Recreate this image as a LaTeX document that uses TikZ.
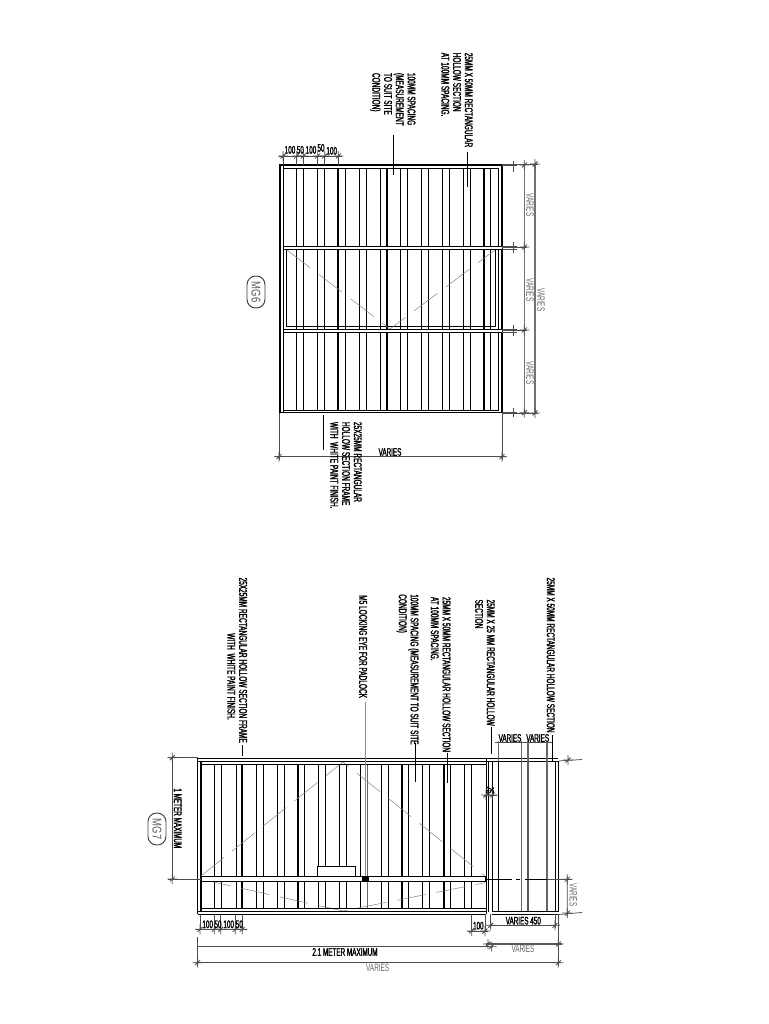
\documentclass[tikz,border=0pt]{standalone}
\usepackage{fontspec}
\newfontfamily\drawfont[FakeStretch=0.58,FakeBold=1.6]{Liberation Sans}
\newfontfamily\grayfont[FakeStretch=0.6]{Liberation Sans}
\newfontfamily\bubblefont[FakeStretch=0.75]{Liberation Sans}
\tikzset{
  frame/.style={line width=1pt,black},
  bar/.style={line width=.75pt,black},
  thickbar/.style={line width=1.3pt,black},
  dim/.style={line width=.55pt,black!70},
  graydim/.style={line width=.8pt,black!55},
  leader/.style={line width=.75pt,black},
  diag/.style={line width=.35pt,black!50,dash pattern=on 22pt off 8pt},
  note/.style={rotate=-90,anchor=north west,align=left,inner sep=0pt,font=\drawfont\fontsize{8.4}{8.8}\selectfont},
  dimtext/.style={inner sep=0pt,font=\drawfont\fontsize{8.2}{8.8}\selectfont},
  graytext/.style={inner sep=0pt,text=black!60,font=\grayfont\fontsize{8}{8.8}\selectfont},
  bubble/.style={draw=black!75,line width=.7pt,rounded corners=6.5pt,minimum width=24pt,minimum height=13.5pt,inner sep=0pt,rotate=-90,text=black!65,font=\bubblefont\fontsize{9.5}{10}\selectfont}
}
\newcommand{\tk}[2]{\draw[dim] (#1-5,#2) -- (#1+5,#2) (#1,#2-5) -- (#1,#2+5) (#1-2.5,#2+2.5) -- (#1+2.5,#2-2.5);}
\begin{document}
\begin{tikzpicture}[x=.75pt,y=-.75pt]
\useasboundingbox (0,0) rectangle (768,1024);
\fill[white] (0,0) rectangle (768,1024);

%% ===== TOP GATE =====
\foreach \x in {296.7,303.3,317.7,324.7,345.3,359.3,366.3,380.3,400.7,407.7,421.7,428.7,442.3,449.3,463.3,470.3,490.7}
  \draw[bar] (\x,168) -- (\x,410);
\foreach \x in {338.3,387,483.7}
  \draw[thickbar] (\x,168) -- (\x,410);
\draw[bar] (286.7,249.3) -- (286.7,326) -- (495,326) -- (495,249.3);
\draw[diag] (287,250) -- (390,329) -- (495,250);
\draw[frame] (280,165) rectangle (502,412.7);
\draw[bar] (283.5,165) -- (283.5,412) (498.7,168) -- (498.7,410.5);
\draw[bar] (283.5,168.5) -- (498.7,168.5) (283.5,410.3) -- (498.7,410.3);
\filldraw[fill=white,draw=black,line width=.7pt] (283.5,246) rectangle (502,249.3);
\filldraw[fill=white,draw=black,line width=.7pt] (283.5,329.3) rectangle (502,332.3);
% top dims
\draw[dim] (279,156) -- (342,156);
\foreach \x in {283,296.7,303.3,317.7,324.7,338.3} {\tk{\x}{156}\draw[dim] (\x,156)--(\x,165);}
\node[dimtext] (t1) at (290,154) [anchor=south] {100};
\node[dimtext] (t2) at (300.3,154) [anchor=south] {50};
\node[dimtext] (t3) at (311,154) [anchor=south] {100};
\node[dimtext] (t4) at (321,152) [anchor=south] {50};
\node[dimtext] (t5) at (331.7,155) [anchor=south] {100};
% right dims
\foreach \y in {165,246,249.3,329.3,332.3,412.7} \draw[dim] (502,\y) -- (517,\y);
\draw[dim] (513,161) -- (513,172) (513,242) -- (513,253) (513,325) -- (513,336) (513,408) -- (513,417);
\draw[graydim] (524.3,165) -- (524.3,412.7);
\draw[graydim] (535,164) -- (535,413);
\foreach \y in {165,247,330,412.7} {\tk{524.3}{\y}}
\tk{535}{164}\tk{535}{413}
\draw[dim] (502,164) -- (538,164) (502,413) -- (538,413) (502,247) -- (527,247) (502,330) -- (527,330);
\node[graytext,rotate=-90] (v1) at (530,205) {VARIES};
\node[graytext,rotate=-90] (v2) at (530,290) {VARIES};
\node[graytext,rotate=-90] (v3) at (530,373) {VARIES};
\node[graytext,rotate=-90] (v4) at (541,300) {VARIES};
% bottom dim
\draw[dim] (279,412.7) -- (279,460) (502,412.7) -- (502,460) (275,456.7) -- (506,456.7);
\tk{279}{456.7}\tk{502}{456.7}
\node[dimtext] (v5) at (390,452) {VARIES};
% notes
\node[note] (n1) at (473,52.5) {25MM X 50MM RECTANGULAR\\HOLLOW SECTION\\AT 100MM SPACING.};
\draw[leader] (467.7,151.7) -- (467.7,186.7);
\node[note] (n2) at (415.7,72.7) {100MM SPACING\\(MEASUREMENT\\TO SUIT SITE\\CONDITION)};
\draw[leader] (393.3,135) -- (393.3,175);
\node[note] (n3) at (362,421.7) {25X25MM RECTANGULAR\\HOLLOW SECTION FRAME\\WITH\ \ WHITE PAINT FINISH.};
\draw[leader] (323.3,415) -- (323.3,450);
\node[bubble] (b1) at (256,292) {MG6};

%% ===== BOTTOM GATE =====
\foreach \x in {214.3,221.7,236,256,263.3,277.3,284.3,304.7,318.3,325.7,339.7,346.7,360.3,381.7,388.7,408.7,422.7,429.7,450,464.3,471.3}
  \draw[bar] (\x,764) -- (\x,908);
\foreach \x in {242.3,297.7,402,443.7}
  \draw[thickbar] (\x,764) -- (\x,908);
\draw[line width=.7pt,black!60] (367.3,764) -- (367.3,908);
\draw[thickbar] (201,761) -- (201,912);
\draw[diag] (201,876) -- (343,762) -- (485,876);
\draw[diag] (201.7,879.3) -- (343,911) -- (485,882.7);
\draw[bar] (197.7,758.3) -- (197.7,914.3);
\draw[bar] (197.7,758.3) -- (558.3,758.3);
\draw[bar] (197.7,761.2) -- (558.3,761.2);
\draw[bar] (201,764.3) -- (486,764.3);
\draw[bar] (201,908.3) -- (486,908.3);
\draw[bar] (197.7,911.7) -- (486,911.7);
\draw[bar] (197.7,914.3) -- (486,914.3);
\draw[bar] (486,758.3) -- (486,914.3);
\filldraw[fill=white,draw=black,line width=.7pt] (201,876) rectangle (485,881.7);
\filldraw[fill=white,draw=black,line width=.6pt] (317.7,866.7) rectangle (355.7,876);
\fill[black] (361.5,876.5) rectangle (368.5,881);
% right panel
\foreach \x in {488.3,492.3,498.3,555,558.3} \draw[bar] (\x,761) -- (\x,911.7);
\foreach \x in {521.7,547} \draw[line width=1.1pt,black!60] (\x,761) -- (\x,911.7);
\draw[line width=1pt,black!65] (528,761) -- (528,911.7);
\draw[bar] (492,911.7) -- (558.3,911.7) (492,914.3) -- (558.3,914.3);
\draw[bar] (486,879.3) -- (512,879.3) (516,879.3) -- (520,879.3) (525,879.3) -- (547,879.3);
\draw[dim] (547,879.3) -- (572,879.3);
% bottom dims
\draw[dim] (196,929.3) -- (246.7,929.3);
\foreach \x in {200,214.3,220.7,235.3,242.3} {\tk{\x}{929.3}\draw[dim] (\x,914)--(\x,929.3);}
\node[dimtext] (d1) at (207.7,924.3) {100};
\node[dimtext] (d2) at (218,924.3) {50};
\node[dimtext] (d3) at (228.7,924.3) {100};
\node[dimtext] (d4) at (239.3,924.3) {50};
\draw[dim] (467.7,931) -- (488,931);
\foreach \x in {471.7,485} {\tk{\x}{931}\draw[dim] (\x,914)--(\x,931);}
\node[dimtext] (d5) at (478.3,925.7) {100};
\draw[dim] (490.7,925.3) -- (555,925.3) (490.7,914) -- (490.7,928) (555,914) -- (555,928);
\tk{490.7}{925.3}\tk{555}{925.3}
\node[dimtext] (d6) at (523.3,920.7) {VARIES 450};
\draw[dim] (197.7,937) -- (197.7,966) (558.3,914) -- (558.3,966);
\draw[line width=.8pt,black!70] (197.7,946.7) -- (491.7,946.7);
\tk{491.7}{946.7}
\node[dimtext] (d7) at (345,952) {2.1 METER MAXIMUM};
\draw[line width=1pt,black!65] (486,944) -- (561.7,944);
\tk{488}{944}\tk{558.3}{944}
\node[graytext] (d8) at (523,949.3) {VARIES};
\draw[dim] (195,962.7) -- (561,962.7);
\tk{197.7}{962.7}\tk{558.3}{962.7}
\node[graytext] (d9) at (377.7,967.7) {VARIES};
% left dim
\draw[dim] (172.3,757.7) -- (172.3,879);
\draw[dim] (168,757.7) -- (197.7,757.7) (168,879) -- (201,879);
\tk{172.3}{757.7}\tk{172.3}{879}
\node[dimtext,rotate=-90] (d10) at (177.7,818.3) {1 METER MAXIMUM};
\node[bubble] (b2) at (157,829) {MG7};
% right dim
\draw[dim] (567.3,876.7) -- (567.3,916.7) (558.3,914.5) -- (582,912.5);
\tk{567.3}{879.3}\tk{567.3}{913}
\node[graytext,rotate=-90] (d11) at (573.3,895) {VARIES};
\draw[dim] (558.3,761) -- (582,759.5);
\tk{568}{760}
% small 25
\node[dimtext,rotate=-90] (d12) at (490,790) {25};
\draw[dim] (484,795) -- (497,795);
\tk{486}{795}\tk{492.3}{795}
% top panel dim
\draw[dim] (495,742.7) -- (551.7,742.7);
\foreach \x in {498.3,521.7,528,547} \draw[line width=.8pt,black!60] (\x,741) -- (\x,761);
\node[dimtext] (d13) at (510,738) {VARIES};
\node[dimtext] (d14) at (537.7,738) {VARIES};
% notes
\node[note] (n4) at (247.3,577.3) {25X25MM RECTANGULAR HOLLOW SECTION FRAME};
\node[note] (n5) at (235.5,633) {WITH\ \ WHITE PAINT FINISH.};
\draw[leader] (242.7,745) -- (242.7,756);
\node[note] (n6) at (367.3,595) {M5 LOCKING EYE FOR PADLOCK};
\draw[line width=.6pt,black!45] (365.7,701.7) -- (365.7,876);
\node[note] (n7) at (419,594) {100MM SPACING (MEASUREMENT TO SUIT SITE\\CONDITION)};
\draw[leader] (415,743) -- (415,782);
\node[note] (n8) at (450.7,596.7) {25MM X 50MM RECTANGULAR HOLLOW SECTION\\AT 100MM SPACING.};
\draw[leader] (447.7,752.7) -- (447.7,782.7);
\node[note] (n9) at (495,599.3) {25MM X 25 MM RECTANGULAR HOLLOW\\SECTION};
\draw[leader] (491,726.7) -- (491,754.3);
\node[note] (n10) at (555,577.3) {25MM X 50MM RECTANGULAR HOLLOW SECTION};
\draw[leader] (552.3,735) -- (552.3,760.7);
\end{tikzpicture}
\end{document}
